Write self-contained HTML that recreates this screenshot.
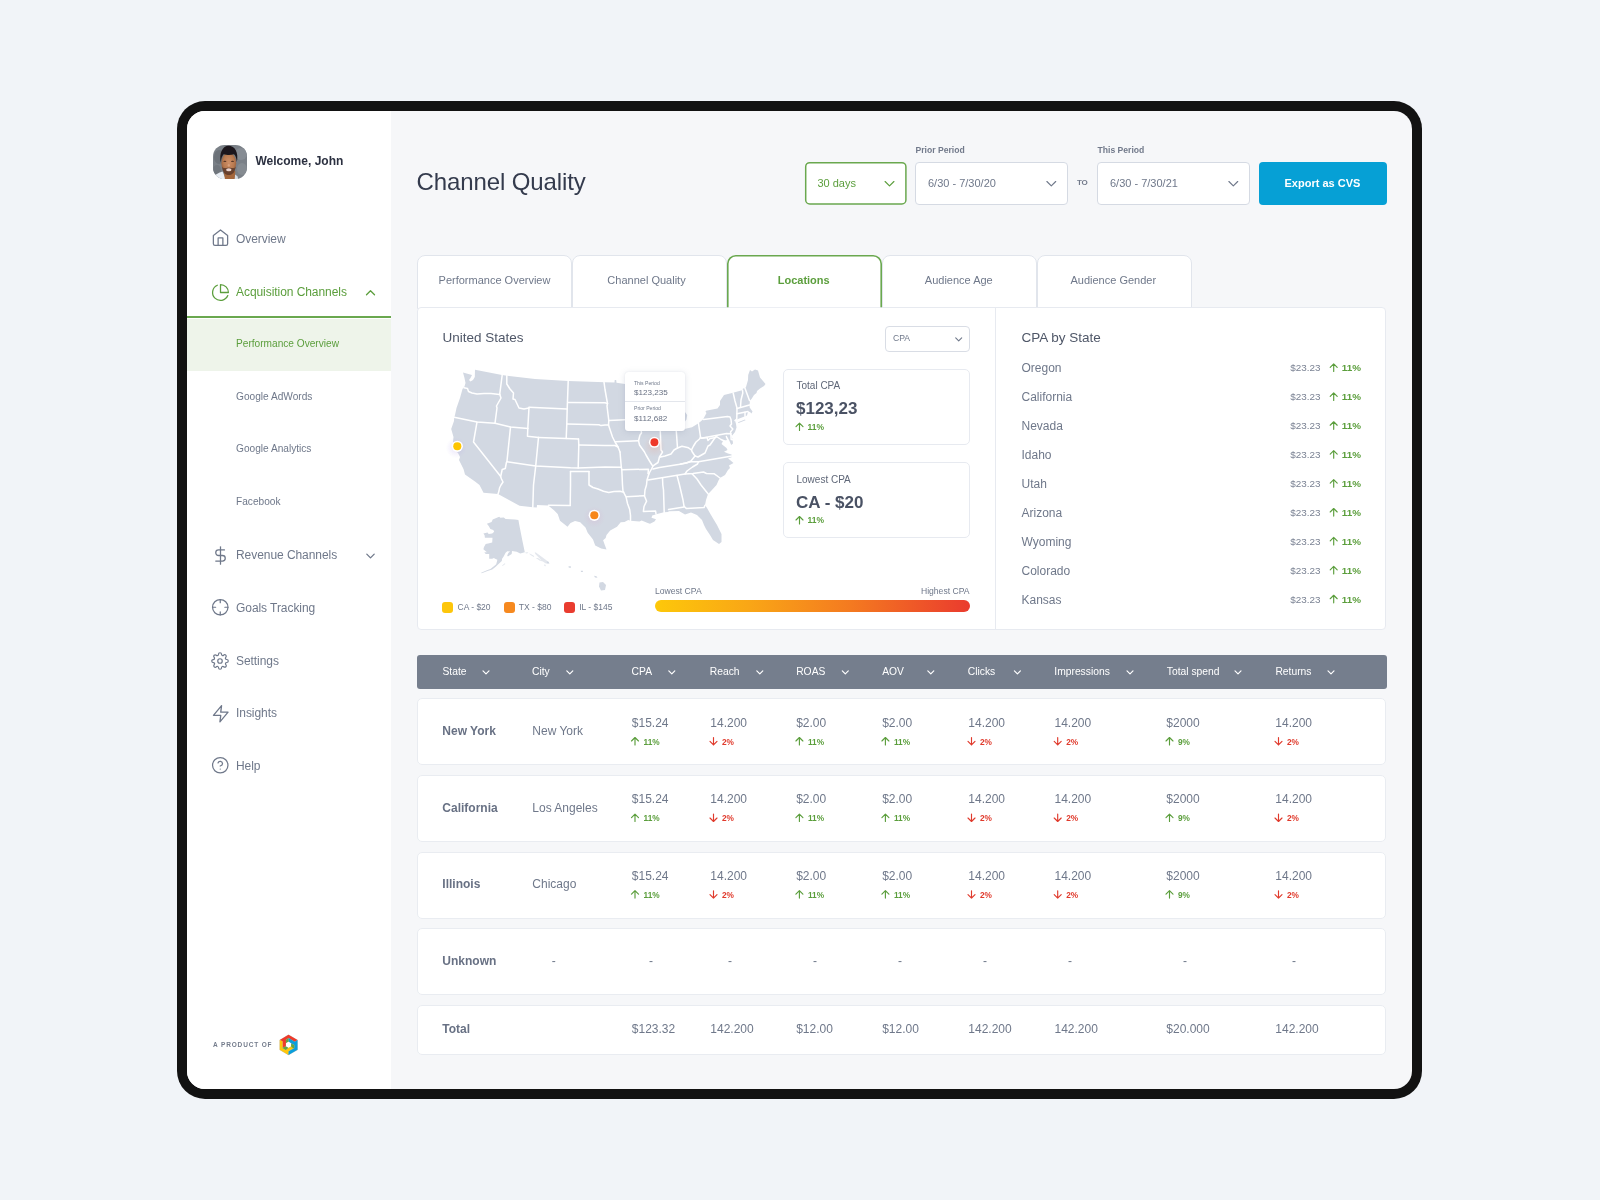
<!DOCTYPE html><html lang="en"><head><meta charset="utf-8"><title>Channel Quality</title><style>
*{box-sizing:border-box;margin:0;padding:0}
html,body{width:1600px;height:1200px;overflow:hidden}
body{background:#f1f4f8;font-family:"Liberation Sans",sans-serif;color:#6f788a;position:relative}
#frame{position:absolute;left:177px;top:101px;width:1245px;height:998px;background:#121212;border-radius:28px}
#screen{position:absolute;left:10px;top:10px;width:1225px;height:978px;background:#f6f7f9;border-radius:18px;overflow:hidden}
#pg{position:absolute;left:-187px;top:-111px;width:1600px;height:1200px;will-change:transform}
#side{position:absolute;left:187px;top:111px;width:204px;height:978px;background:#fff}
.t{position:absolute;white-space:nowrap;line-height:1}
.b{font-weight:700}
.g{color:#5b9e3c}.r{color:#e03a2c}
svg{position:absolute;overflow:visible}
.ic{fill:none;stroke:#6f788a;stroke-width:1.6;stroke-linecap:round;stroke-linejoin:round}
.box{position:absolute;background:#fff;border:1px solid #d5dae3;border-radius:4px}
.card{position:absolute;background:#fff;border:1px solid #e7eaf0;border-radius:5px}
.tab{position:absolute;top:255px;height:54px;width:155px;background:#fff;border:1px solid #e1e5ec;border-radius:8px 8px 0 0}
.row{position:absolute;left:417px;width:969px;height:67px;background:#fff;border:1px solid #e9ecf1;border-radius:5px}
</style></head><body>
<div id="frame"><div id="screen"><div id="pg">
<div id="side"></div>
<svg style="left:212.5px;top:144.8px" width="34" height="34" viewBox="0 0 34 34">
<defs><clipPath id="avc"><rect x="0" y="0" width="34" height="34" rx="11.500" ry="11.500"/></clipPath>
<filter id="avb" x="-10%" y="-10%" width="120%" height="120%"><feGaussianBlur stdDeviation="0.550"/></filter>
<radialGradient id="avf" cx="50%" cy="45%" r="60%"><stop offset="0" stop-color="#cf9068"/><stop offset=".6" stop-color="#b87a50"/><stop offset="1" stop-color="#8d5636"/></radialGradient></defs>
<g clip-path="url(#avc)"><rect width="34" height="34" fill="#7a8087"/>
<g filter="url(#avb)">
<ellipse cx="6" cy="12" rx="5" ry="7" fill="#6c7279"/><ellipse cx="28" cy="9" rx="6" ry="6" fill="#868c93"/><ellipse cx="29" cy="24" rx="5" ry="6" fill="#858b91"/><ellipse cx="4" cy="25" rx="4" ry="5" fill="#70767d"/>
<path d="M-1 36L3 29.500C5.500 27.800 8 27 9.500 26.500L13 34.500z" fill="#e9eef4"/>
<path d="M22 29.500l2.500 1.800 1 4h-4.500z" fill="#d5dbe3"/>
<path d="M10.800 26l1.200 9h9.500l.8-9z" fill="#a4663a"/>
<ellipse cx="15.800" cy="18.300" rx="7.400" ry="10.600" fill="url(#avf)"/>
<path d="M7.800 17.500C5.800 8.500 9.500 .8 15.600 .8s10.400 6.500 8.200 16.500c-.3-4-1.200-6.400-2.800-8-3 .9-7.600.8-10.400-.1-1.500 1.600-2.500 4.300-2.800 8.300z" fill="#1d191b"/>
<path d="M9 21.500c.6 5.700 3 8.600 6.800 8.600s6.200-3 6.900-8.600c-1.200 2.300-2.700 1.200-6.900 1.200s-5.600 1.100-6.800-1.200z" fill="#5e3b2a" opacity=".85"/>
<ellipse cx="15.800" cy="24.700" rx="2.700" ry="1.500" fill="#ead3cd"/>
<ellipse cx="11.900" cy="16.300" rx="1.500" ry=".55" fill="#3a2218"/><ellipse cx="19.500" cy="16.300" rx="1.500" ry=".55" fill="#3a2218"/>
<ellipse cx="15.800" cy="20.300" rx="1.100" ry="1.400" fill="#d9a07c"/>
</g></g></svg>
<div class="t b" style="left:255.5px;top:155.34px;font-size:12px;color:#2b3040">Welcome, John</div>
<div style="position:absolute;left:187px;top:316.3px;width:204px;height:2.2px;background:#6aa84f"></div>
<div style="position:absolute;left:187px;top:318.5px;width:204px;height:52.5px;background:#eef4ea"></div>
<svg class="ic" style="left:210.8px;top:228.0px;stroke:#6f788a" width="19" height="19" viewBox="0 0 24 24"><path d="M3 9.5l9-7 9 7V20a2 2 0 0 1-2 2H5a2 2 0 0 1-2-2z"/><polyline points="9 22 9 12.5 15 12.5 15 22"/></svg>
<div class="t " style="left:236px;top:232.84px;font-size:12px;color:#6f788a;letter-spacing:-.06px">Overview</div>
<svg class="ic" style="left:210.8px;top:282.6px;stroke:#5b9e3c" width="19" height="19" viewBox="0 0 24 24"><path d="M21.21 15.89A10 10 0 1 1 8 2.83"/><path d="M22 12A10 10 0 0 0 12 2v10z"/></svg>
<div class="t " style="left:236px;top:285.54px;font-size:12px;color:#5b9e3c;letter-spacing:-.06px">Acquisition Channels</div>
<div class="t " style="left:236px;top:338.84px;font-size:10.15px;color:#5b9e3c">Performance Overview</div>
<div class="t " style="left:236px;top:391.64px;font-size:10.15px;color:#6f788a">Google AdWords</div>
<div class="t " style="left:236px;top:444.24px;font-size:10.15px;color:#6f788a">Google Analytics</div>
<div class="t " style="left:236px;top:496.94px;font-size:10.15px;color:#6f788a">Facebook</div>
<svg class="ic" style="left:210.8px;top:546.0px;stroke:#6f788a" width="19" height="19" viewBox="0 0 24 24"><line x1="12" y1="1" x2="12" y2="23"/><path d="M17 5H9.5a3.5 3.5 0 0 0 0 7h5a3.5 3.5 0 0 1 0 7H6"/></svg>
<div class="t " style="left:236px;top:549.34px;font-size:12px;color:#6f788a;letter-spacing:-.06px">Revenue Channels</div>
<svg class="ic" style="left:211.05px;top:598.25px;stroke:#6f788a" width="18.5" height="18.5" viewBox="0 0 24 24"><circle cx="12" cy="12" r="10"/><line x1="22" y1="12" x2="18" y2="12"/><line x1="6" y1="12" x2="2" y2="12"/><line x1="12" y1="6" x2="12" y2="2"/><line x1="12" y1="22" x2="12" y2="18"/></svg>
<div class="t " style="left:236px;top:601.64px;font-size:12px;color:#6f788a;letter-spacing:-.06px">Goals Tracking</div>
<svg class="ic" style="left:211.3px;top:652.0px;stroke:#6f788a" width="18" height="18" viewBox="0 0 24 24"><circle cx="12" cy="12" r="3"/><path d="M19.4 15a1.65 1.65 0 0 0 .33 1.82l.06.06a2 2 0 0 1 0 2.83 2 2 0 0 1-2.83 0l-.06-.06a1.65 1.65 0 0 0-1.82-.33 1.65 1.65 0 0 0-1 1.51V21a2 2 0 0 1-2 2 2 2 0 0 1-2-2v-.09A1.65 1.65 0 0 0 9 19.4a1.65 1.65 0 0 0-1.82.33l-.06.06a2 2 0 0 1-2.83 0 2 2 0 0 1 0-2.83l.06-.06a1.65 1.65 0 0 0 .33-1.82 1.65 1.65 0 0 0-1.51-1H3a2 2 0 0 1-2-2 2 2 0 0 1 2-2h.09A1.65 1.65 0 0 0 4.6 9a1.65 1.65 0 0 0-.33-1.82l-.06-.06a2 2 0 0 1 0-2.83 2 2 0 0 1 2.83 0l.06.06a1.65 1.65 0 0 0 1.82.33H9a1.65 1.65 0 0 0 1-1.51V3a2 2 0 0 1 2-2 2 2 0 0 1 2 2v.09a1.65 1.65 0 0 0 1 1.51 1.65 1.65 0 0 0 1.82-.33l.06-.06a2 2 0 0 1 2.83 0 2 2 0 0 1 0 2.83l-.06.06a1.65 1.65 0 0 0-.33 1.82V9a1.65 1.65 0 0 0 1.51 1H21a2 2 0 0 1 2 2 2 2 0 0 1-2 2h-.09a1.65 1.65 0 0 0-1.51 1z"/></svg>
<div class="t " style="left:236px;top:654.64px;font-size:12px;color:#6f788a;letter-spacing:-.06px">Settings</div>
<svg class="ic" style="left:210.55px;top:703.95px;stroke:#6f788a" width="19.5" height="19.5" viewBox="0 0 24 24"><polygon points="13 2 3 14 12 14 11 22 21 10 12 10 13 2"/></svg>
<div class="t " style="left:236px;top:707.44px;font-size:12px;color:#6f788a;letter-spacing:-.06px">Insights</div>
<svg class="ic" style="left:211.05px;top:756.25px;stroke:#6f788a" width="18.5" height="18.5" viewBox="0 0 24 24"><circle cx="12" cy="12" r="10"/><path d="M9.09 9a3 3 0 0 1 5.83 1c0 2-3 3-3 3"/><line x1="12" y1="17" x2="12.01" y2="17"/></svg>
<div class="t " style="left:236px;top:760.34px;font-size:12px;color:#6f788a;letter-spacing:-.06px">Help</div>
<svg style="left:0;top:0" width="1" height="1"><polyline points="366.5,294.7 370.5,290.7 374.5,294.7" fill="none" stroke="#5b9e3c" stroke-width="1.3" stroke-linecap="round" stroke-linejoin="round"/></svg>
<svg style="left:0;top:0" width="1" height="1"><polyline points="366.8,554.15 370.5,557.85 374.2,554.15" fill="none" stroke="#6f788a" stroke-width="1.3" stroke-linecap="round" stroke-linejoin="round"/></svg>
<div class="t b" style="left:213px;top:1041.62px;font-size:6.5px;letter-spacing:.85px;color:#747c8c">A PRODUCT OF</div>
<svg style="left:274px;top:1030px" width="30" height="30" viewBox="0 0 1200 1200">
<polygon points="222,395 580,180 948,395 948,795 580,1006 222,795" fill="#5a4a3a" opacity=".35"/>
<polygon points="230,400 580,190 940,400 830,468 580,322 478,385 478,650 345,705 340,445" fill="#ee3b2b"/>
<polygon points="230,402 340,447 340,715 470,795 580,712 682,650 700,678 772,740 585,850 580,997 230,790" fill="#fdc70c"/>
<polygon points="580,324 830,470 940,402 940,790 580,997 585,850 812,725 812,600 682,530 580,468" fill="#0b9fdc"/>
<polygon points="478,385 580,324 580,468 478,530" fill="#62a744"/>
<polygon points="682,535 812,602 812,722 772,740 700,678 682,650" fill="#62a744"/>
<polygon points="345,705 478,650 580,712 470,795 340,715" fill="#62a744"/>
<polygon points="580,468 682,530 682,650 580,712 478,650 478,530" fill="#fff"/>
</svg>
<div class="t " style="left:416.5px;top:169.68px;font-size:24px;color:#343b4d;letter-spacing:-.1px">Channel Quality</div>
<svg style="left:0;top:0" width="1" height="1"><rect x="805.7" y="162.7" width="100.200" height="41.200" rx="4" fill="#fff" stroke="#6aa84f" stroke-width="1.500"/></svg>
<div class="t " style="left:817.4px;top:177.93px;font-size:11px;color:#5b9e3c">30 days</div>
<svg style="left:0;top:0" width="1" height="1"><polyline points="885.1,181.5 889.5,185.89999999999998 893.9,181.5" fill="none" stroke="#5b9e3c" stroke-width="1.15" stroke-linecap="round" stroke-linejoin="round"/></svg>
<div class="t b" style="left:915.5px;top:145.60px;font-size:8.6px;color:#727a8b">Prior Period</div>
<div class="box" style="left:915px;top:162px;width:153px;height:42.5px"></div>
<div class="t " style="left:928px;top:177.93px;font-size:11px;">6/30 - 7/30/20</div>
<svg style="left:0;top:0" width="1" height="1"><polyline points="1046.8999999999999,181.5 1051.3,185.89999999999998 1055.7,181.5" fill="none" stroke="#6f788a" stroke-width="1.15" stroke-linecap="round" stroke-linejoin="round"/></svg>
<div class="t b" style="left:1077px;top:179.39px;font-size:8px;color:#727a8b;letter-spacing:-.2px">TO</div>
<div class="t b" style="left:1097.5px;top:145.60px;font-size:8.6px;color:#727a8b">This Period</div>
<div class="box" style="left:1097px;top:162px;width:153px;height:42.5px"></div>
<div class="t " style="left:1110px;top:177.93px;font-size:11px;">6/30 - 7/30/21</div>
<svg style="left:0;top:0" width="1" height="1"><polyline points="1228.8999999999999,181.5 1233.3,185.89999999999998 1237.7,181.5" fill="none" stroke="#6f788a" stroke-width="1.15" stroke-linecap="round" stroke-linejoin="round"/></svg>
<div style="position:absolute;left:1259px;top:162px;width:127.5px;height:42.5px;background:#06a0d5;border-radius:4px"></div>
<div class="t b" style="left:1284.5px;top:177.83px;font-size:11px;color:#fff">Export as CVS</div>
<div class="tab" style="left:417px"></div>
<div class="tab" style="left:572px"></div>
<svg style="left:0;top:0;z-index:5" width="1" height="1"><path d="M727.8 307.2V263.8A8 8 0 0 1 735.8 255.8H873.2A8 8 0 0 1 881.2 263.8V307.2" fill="#fff" stroke="#6aa84f" stroke-width="1.6"/></svg>
<div class="tab" style="left:882px"></div>
<div class="tab" style="left:1037px"></div>
<div class="card" style="left:417px;top:306.5px;width:969px;height:323px;border-radius:4px;z-index:4"></div>
<div style="position:absolute;z-index:5;left:0;top:0;width:1600px;height:1200px">
<div class="t " style="left:417px;width:155px;text-align:center;top:275.13px;font-size:11px;color:#6f788a">Performance Overview</div>
<div class="t " style="left:569px;width:155px;text-align:center;top:275.13px;font-size:11px;color:#6f788a">Channel Quality</div>
<div class="t b" style="left:726.2px;width:155px;text-align:center;top:275.13px;font-size:11px;color:#5b9e3c">Locations</div>
<div class="t " style="left:881.3px;width:155px;text-align:center;top:275.13px;font-size:11px;color:#6f788a">Audience Age</div>
<div class="t " style="left:1035.8px;width:155px;text-align:center;top:275.13px;font-size:11px;color:#6f788a">Audience Gender</div>
<div style="position:absolute;left:995px;top:307px;width:1px;height:322px;background:#e7eaf0"></div>
<div class="t " style="left:442.5px;top:330.91px;font-size:13.5px;color:#4f5768">United States</div>
<div class="box" style="left:884.5px;top:326px;width:85px;height:25.5px;border-color:#d9dde5"></div>
<div class="t " style="left:893px;top:334.30px;font-size:8.6px;">CPA</div>
<svg style="left:0;top:0" width="1" height="1"><polyline points="955.7,337.8 958.7,340.8 961.7,337.8" fill="none" stroke="#6f788a" stroke-width="1.1" stroke-linecap="round" stroke-linejoin="round"/></svg>
<svg style="left:445px;top:365px" width="330" height="240" viewBox="0 0 3300 2400">
<g fill="#d2d8e2" stroke="none">
<polygon points="300,48 570,100 620,108 900,140 1232,161 1600,172 1695,174 1697,150 1712,150 1715,177 1800,190 1930,235 1890,290 2020,300 2120,285 2240,310 2300,360 2370,400 2400,470 2422,500 2415,545 2400,565 2395,640 2470,622 2535,582 2580,545 2615,480 2605,468 2610,457 2725,435 2750,400 2750,360 2790,300 2880,277 2970,252 2980,235 3000,232 3010,220 3030,150 3032,100 3050,50 3070,65 3100,45 3130,55 3150,125 3180,160 3205,190 3190,210 3150,235 3120,260 3115,280 3090,300 3065,340 3050,355 3045,400 3047,425 3075,465 3065,485 3050,470 3030,465 3020,505 2930,540 2900,555 2910,590 2915,625 2900,670 2872,705 2855,690 2865,720 2875,740 2880,785 2862,800 2845,760 2835,740 2815,705 2805,715 2820,750 2780,760 2765,790 2815,830 2825,850 2790,868 2830,885 2865,895 2870,920 2830,935 2850,950 2885,980 2840,1005 2850,1030 2830,1050 2800,1100 2750,1130 2735,1155 2715,1200 2660,1260 2630,1290 2610,1350 2600,1400 2620,1430 2660,1500 2720,1600 2765,1690 2765,1770 2740,1790 2680,1750 2650,1700 2610,1640 2590,1600 2570,1550 2520,1500 2460,1475 2400,1495 2340,1460 2240,1462 2230,1470 2190,1472 2120,1490 2090,1500 2072,1505 2065,1527 2110,1542 2095,1565 2050,1587 2027,1580 1967,1554 1945,1565 1855,1557 1832,1550 1795,1569 1757,1572 1720,1617 1652,1655 1615,1700 1607,1730 1581,1752 1600,1805 1615,1846 1562,1835 1502,1805 1480,1745 1427,1677 1405,1625 1352,1572 1300,1561 1255,1580 1225,1617 1150,1557 1127,1490 1090,1452 1032,1404 920,1400 918,1425 878,1422 745,1408 530,1290 385,1278 345,1200 300,1165 250,1130 200,1095 185,1040 140,950 150,920 130,880 100,850 80,770 85,720 62,640 90,560 92,525 100,500 115,430 150,330 175,240 195,215 205,180 195,130 180,75 270,100 255,130 240,150 255,165 280,150 298,120"/>
<polygon points="2930,572 3000,545 3005,552 2935,580"/>
<polygon points="419,1587 466,1569 477,1546 542,1517 553,1528 588,1525 606,1540 699,1546 734,1549 746,1616 775,1762 798,1872 752,1884 717,1867 670,1861 667,1890 647,1902 629,1916 622,1905 635,1878 652,1864 623,1862 606,1878 588,1913 571,1937 568,1960 530,1995 507,2018 472,2045 425,2059 367,2082 361,2077 419,2053 454,2039 495,2007 512,1992 524,1948 501,1937 489,1931 472,1937 442,1937 442,1890 407,1890 393,1872 419,1872 384,1843 390,1820 407,1791 442,1782 472,1776 475,1727 442,1727 399,1727 396,1703 384,1686 425,1674 437,1689 472,1686 492,1668 483,1651 454,1639 437,1610"/>
<polygon points="1015,1965 1035,1968 1040,1980 1020,1982"/>
<polygon points="1235,2012 1258,2012 1260,2027 1238,2028"/>
<polygon points="1358,2057 1378,2058 1380,2070 1360,2070"/>
<polygon points="1490,2108 1515,2112 1525,2128 1500,2125"/>
<polygon points="1545,2175 1580,2170 1610,2200 1600,2250 1560,2255 1540,2215"/>
<g opacity=".6">
<polygon points="801,1874 827,1872 833,1881 810,1885"/>
<polygon points="839,1885 857,1890 892,1910 889,1919 862,1905"/>
<polygon points="897,1872 909,1875 1037,1969 1046,1989 1008,1984 979,1966 944,1954 909,1931 930,1931 967,1954 903,1890"/>
<polygon points="991,1995 1005,1998 1008,2012 994,2010"/>
<polygon points="571,2004 597,1983 603,1990 577,2010"/>
</g>
</g>
<g fill="none" stroke="#fff" stroke-width="15" stroke-linejoin="round" stroke-linecap="round">
<polyline points="190,228 225,235 235,265 270,280 320,290 390,285 460,285 545,295"/>
<polyline points="572,100 547,293"/>
<polyline points="547,293 560,330 515,410 520,430 500,582"/>
<polyline points="618,108 618,190 650,240 685,280 680,340 700,345 740,430 790,440 838,430"/>
<polyline points="840,425 828,632 825,712 935,725"/>
<polyline points="840,423 1221,440"/>
<polyline points="1232,161 1222,440 1218,590 1212,735"/>
<polyline points="92,523 320,571 500,583 655,621 830,634"/>
<polyline points="320,572 285,770 555,1112 565,1140 580,1170 560,1200 545,1230 540,1260 530,1290"/>
<polyline points="655,622 619,968"/>
<polyline points="614,975 603,1035 572,1045 558,1110"/>
<polyline points="619,968 907,1011 1255,1028 1332,1030 1600,1021 1763,1022"/>
<polyline points="935,725 907,1011 885,1200 878,1422"/>
<polyline points="935,725 1212,735 1335,740"/>
<polyline points="1335,740 1338,800 1332,1030"/>
<polyline points="1232,376 1600,378 1625,385"/>
<polyline points="1222,590 1540,598 1560,606 1600,600 1635,600"/>
<polyline points="1338,800 1600,805 1700,805 1730,820"/>
<polyline points="1255,1065 1255,1200 1252,1404"/>
<polyline points="1252,1404 1035,1402"/>
<polyline points="1255,1065 1440,1065"/>
<polyline points="1440,1065 1440,1200 1480,1225 1530,1240 1585,1262 1637,1275 1690,1265 1750,1262 1787,1272"/>
<polyline points="1590,172 1600,245 1615,330 1625,385 1620,410 1638,555 1635,600"/>
<polyline points="1635,600 1675,720 1700,770 1730,820 1750,870"/>
<polyline points="1750,870 1763,1022 1768,1047 1775,1200 1780,1262 1800,1300 1810,1317"/>
<polyline points="1810,1317 1825,1385 1847,1445 1855,1505 1855,1556"/>
<polyline points="1638,555 1800,548 1960,548"/>
<polyline points="1705,768 1935,757"/>
<polyline points="1960,640 1965,680 1950,700 1935,757 1945,800 1995,870 2010,900 2045,960 2070,1000 2080,1010 2065,1040 2040,1085 2020,1150 2015,1200 2000,1250 1995,1310 2016,1362 1990,1415 1984,1464 2106,1460 2110,1490"/>
<polyline points="2153,660 2160,850 2175,870 2145,920 2130,975 2080,1008"/>
<polyline points="2313,660 2325,830"/>
<polyline points="2145,922 2200,910 2260,890 2290,850 2325,830 2370,812 2435,828 2465,850"/>
<polyline points="2555,720 2545,740 2510,770 2485,810 2465,848 2470,865 2500,910"/>
<polyline points="2535,585 2555,720"/>
<polyline points="2585,545 2825,515 2850,520 2860,545 2865,590 2850,610 2878,640 2855,670 2858,690"/>
<polyline points="2555,722 2562,733 2815,686 2858,688"/>
<polyline points="2562,733 2620,725 2630,755 2650,735 2695,728 2715,715"/>
<polyline points="2500,910 2530,920 2600,880 2630,810 2650,800 2695,735 2715,715 2760,745 2800,762"/>
<polyline points="2500,910 2460,960 2415,980 2350,992"/>
<polyline points="2080,1040 2145,1025 2350,992 2460,967 2535,967 2870,910"/>
<polyline points="2535,967 2525,990 2475,1020 2420,1060 2400,1090"/>
<polyline points="2030,1150 2400,1090 2480,1085 2585,1070 2615,1085 2690,1087 2750,1130"/>
<polyline points="1768,1047 2035,1042 2030,1085 2040,1088"/>
<polyline points="1814,1317 1995,1308"/>
<polyline points="2175,1128 2178,1200 2185,1250 2192,1475"/>
<polyline points="2320,1105 2345,1200 2380,1350 2390,1412"/>
<polyline points="2235,1444 2390,1420"/>
<polyline points="2390,1412 2415,1436 2590,1426 2600,1402"/>
<polyline points="2470,1088 2520,1140 2560,1200 2630,1288"/>
<polyline points="2882,280 2900,360 2920,430 2918,540 2900,555"/>
<polyline points="2975,250 2978,280 2960,350 2955,420"/>
<polyline points="3000,232 3045,355"/>
<polyline points="2920,435 3045,400"/>
<polyline points="2920,488 3030,465"/>
<polyline points="3000,472 3000,512"/>
<polyline points="2858,690 2862,745 2880,748"/>
</g>
</svg>
<svg style="left:0;top:0" width="1600" height="1200" viewBox="0 0 1600 1200">
<defs><radialGradient id="gl1"><stop offset="0" stop-color="#9a80e6" stop-opacity=".26"/><stop offset=".45" stop-color="#a892ea" stop-opacity=".14"/><stop offset="1" stop-color="#b6a6ee" stop-opacity="0"/></radialGradient><radialGradient id="gl2"><stop offset="0" stop-color="#e8a08a" stop-opacity=".32"/><stop offset="1" stop-color="#e8b0a0" stop-opacity="0"/></radialGradient><radialGradient id="gl3"><stop offset="0" stop-color="#d8a0c8" stop-opacity=".3"/><stop offset="1" stop-color="#d8b0d0" stop-opacity="0"/></radialGradient></defs>
<circle cx="456.2" cy="447.8" r="10.500" fill="url(#gl1)"/><circle cx="457.3" cy="446.3" r="5.600" fill="#fff"/><circle cx="457.3" cy="446.3" r="4.050" fill="#fdc502"/>
<circle cx="654.4" cy="446" r="11" fill="url(#gl2)"/><circle cx="654.4" cy="442.3" r="5.500" fill="#fff"/><circle cx="654.4" cy="442.3" r="3.950" fill="#ee3829"/>
<circle cx="594.3" cy="517" r="11" fill="url(#gl3)"/><circle cx="594.3" cy="515.3" r="5.650" fill="#fff"/><circle cx="594.3" cy="515.3" r="4.050" fill="#f6871a"/>
</svg>
<div style="position:absolute;left:625.3px;top:372px;width:59.500px;height:59px;background:#fff;border-radius:3px;box-shadow:0 1px 6px rgba(120,130,160,.22),0 0 1px rgba(120,130,160,.25)"></div>
<div style="position:absolute;left:625.3px;top:401px;width:59.500px;height:.8px;background:#e3e6ec"></div>
<div class="t" style="left:634px;top:381px;font-size:5.1px;color:#6f788a">This Period</div>
<div class="t" style="left:634px;top:389.1px;font-size:8.1px;color:#697183">$123,235</div>
<div class="t" style="left:634px;top:405.8px;font-size:5.1px;color:#6f788a">Prior Period</div>
<div class="t" style="left:634px;top:414.9px;font-size:8.1px;color:#697183">$112,682</div>
<div class="card" style="left:782.5px;top:369px;width:187px;height:76px"></div>
<div class="t " style="left:796.5px;top:381.31px;font-size:10.0px;color:#5f6778">Total CPA</div>
<div class="t b" style="left:796px;top:400.40px;font-size:17px;color:#4a5264">$123,23</div>
<svg style="left:0;top:0" width="1" height="1"><path d="M799.5 430.5V423.1M796 426.6L799.5 423.1L803 426.6" fill="none" stroke="#5b9e3c" stroke-width="1.15" stroke-linecap="round" stroke-linejoin="round"/></svg>
<div class="t b g" style="left:807.5px;top:422.95px;font-size:8.5px;">11%</div>
<div class="card" style="left:782.5px;top:462.4px;width:187px;height:76px"></div>
<div class="t " style="left:796.5px;top:474.71px;font-size:10.0px;color:#5f6778">Lowest CPA</div>
<div class="t b" style="left:796px;top:493.80px;font-size:17px;color:#4a5264">CA - $20</div>
<svg style="left:0;top:0" width="1" height="1"><path d="M799.5 523.9V516.4999999999999M796 519.9999999999999L799.5 516.4999999999999L803 519.9999999999999" fill="none" stroke="#5b9e3c" stroke-width="1.15" stroke-linecap="round" stroke-linejoin="round"/></svg>
<div class="t b g" style="left:807.5px;top:516.35px;font-size:8.5px;">11%</div>
<div style="position:absolute;left:442.3px;top:601.5px;width:11px;height:11px;border-radius:3px;background:#fdc60b"></div>
<div class="t " style="left:457.5px;top:603.05px;font-size:8.5px;">CA - $20</div>
<div style="position:absolute;left:503.6px;top:601.5px;width:11px;height:11px;border-radius:3px;background:#f6891f"></div>
<div class="t " style="left:518.8000000000001px;top:603.05px;font-size:8.5px;">TX - $80</div>
<div style="position:absolute;left:564px;top:601.5px;width:11px;height:11px;border-radius:3px;background:#e93c2f"></div>
<div class="t " style="left:579.2px;top:603.05px;font-size:8.5px;">IL - $145</div>
<div class="t " style="left:655px;top:586.80px;font-size:8.6px;">Lowest CPA</div>
<div class="t " style="right:630.5px;top:586.80px;font-size:8.6px;">Highest CPA</div>
<div style="position:absolute;left:655px;top:599.8px;width:314.500px;height:12.7px;border-radius:7px;background:linear-gradient(90deg,#fdc80a 0%,#f9a616 30%,#f47a20 62%,#ea3b2e 100%)"></div>
<div class="t " style="left:1021.5px;top:330.91px;font-size:13.5px;color:#4f5768">CPA by State</div>
<div class="t " style="left:1021.5px;top:362.14px;font-size:12px;">Oregon</div>
<div class="t " style="left:1290.3px;top:363.16px;font-size:9.9px;color:#7a8293">$23.23</div>
<svg style="left:0;top:0" width="1" height="1"><path d="M1333.7 371.5V363.9M1330.2 367.4L1333.7 363.9L1337.2 367.4" fill="none" stroke="#5b9e3c" stroke-width="1.15" stroke-linecap="round" stroke-linejoin="round"/></svg>
<div class="t b g" style="left:1341.8px;top:363.16px;font-size:9.9px;">11%</div>
<div class="t " style="left:1021.5px;top:391.06px;font-size:12px;">California</div>
<div class="t " style="left:1290.3px;top:392.08px;font-size:9.9px;color:#7a8293">$23.23</div>
<svg style="left:0;top:0" width="1" height="1"><path d="M1333.7 400.42V392.82M1330.2 396.32L1333.7 392.82L1337.2 396.32" fill="none" stroke="#5b9e3c" stroke-width="1.15" stroke-linecap="round" stroke-linejoin="round"/></svg>
<div class="t b g" style="left:1341.8px;top:392.08px;font-size:9.9px;">11%</div>
<div class="t " style="left:1021.5px;top:419.98px;font-size:12px;">Nevada</div>
<div class="t " style="left:1290.3px;top:421.00px;font-size:9.9px;color:#7a8293">$23.23</div>
<svg style="left:0;top:0" width="1" height="1"><path d="M1333.7 429.34000000000003V421.74M1330.2 425.24L1333.7 421.74L1337.2 425.24" fill="none" stroke="#5b9e3c" stroke-width="1.15" stroke-linecap="round" stroke-linejoin="round"/></svg>
<div class="t b g" style="left:1341.8px;top:421.00px;font-size:9.9px;">11%</div>
<div class="t " style="left:1021.5px;top:448.90px;font-size:12px;">Idaho</div>
<div class="t " style="left:1290.3px;top:449.92px;font-size:9.9px;color:#7a8293">$23.23</div>
<svg style="left:0;top:0" width="1" height="1"><path d="M1333.7 458.26V450.65999999999997M1330.2 454.15999999999997L1333.7 450.65999999999997L1337.2 454.15999999999997" fill="none" stroke="#5b9e3c" stroke-width="1.15" stroke-linecap="round" stroke-linejoin="round"/></svg>
<div class="t b g" style="left:1341.8px;top:449.92px;font-size:9.9px;">11%</div>
<div class="t " style="left:1021.5px;top:477.82px;font-size:12px;">Utah</div>
<div class="t " style="left:1290.3px;top:478.84px;font-size:9.9px;color:#7a8293">$23.23</div>
<svg style="left:0;top:0" width="1" height="1"><path d="M1333.7 487.18V479.58M1330.2 483.08L1333.7 479.58L1337.2 483.08" fill="none" stroke="#5b9e3c" stroke-width="1.15" stroke-linecap="round" stroke-linejoin="round"/></svg>
<div class="t b g" style="left:1341.8px;top:478.84px;font-size:9.9px;">11%</div>
<div class="t " style="left:1021.5px;top:506.74px;font-size:12px;">Arizona</div>
<div class="t " style="left:1290.3px;top:507.76px;font-size:9.9px;color:#7a8293">$23.23</div>
<svg style="left:0;top:0" width="1" height="1"><path d="M1333.7 516.1V508.50000000000006M1330.2 512.0L1333.7 508.50000000000006L1337.2 512.0" fill="none" stroke="#5b9e3c" stroke-width="1.15" stroke-linecap="round" stroke-linejoin="round"/></svg>
<div class="t b g" style="left:1341.8px;top:507.76px;font-size:9.9px;">11%</div>
<div class="t " style="left:1021.5px;top:535.66px;font-size:12px;">Wyoming</div>
<div class="t " style="left:1290.3px;top:536.68px;font-size:9.9px;color:#7a8293">$23.23</div>
<svg style="left:0;top:0" width="1" height="1"><path d="M1333.7 545.02V537.4200000000001M1330.2 540.9200000000001L1333.7 537.4200000000001L1337.2 540.9200000000001" fill="none" stroke="#5b9e3c" stroke-width="1.15" stroke-linecap="round" stroke-linejoin="round"/></svg>
<div class="t b g" style="left:1341.8px;top:536.68px;font-size:9.9px;">11%</div>
<div class="t " style="left:1021.5px;top:564.58px;font-size:12px;">Colorado</div>
<div class="t " style="left:1290.3px;top:565.60px;font-size:9.9px;color:#7a8293">$23.23</div>
<svg style="left:0;top:0" width="1" height="1"><path d="M1333.7 573.94V566.3400000000001M1330.2 569.8400000000001L1333.7 566.3400000000001L1337.2 569.8400000000001" fill="none" stroke="#5b9e3c" stroke-width="1.15" stroke-linecap="round" stroke-linejoin="round"/></svg>
<div class="t b g" style="left:1341.8px;top:565.60px;font-size:9.9px;">11%</div>
<div class="t " style="left:1021.5px;top:593.50px;font-size:12px;">Kansas</div>
<div class="t " style="left:1290.3px;top:594.52px;font-size:9.9px;color:#7a8293">$23.23</div>
<svg style="left:0;top:0" width="1" height="1"><path d="M1333.7 602.86V595.2600000000001M1330.2 598.7600000000001L1333.7 595.2600000000001L1337.2 598.7600000000001" fill="none" stroke="#5b9e3c" stroke-width="1.15" stroke-linecap="round" stroke-linejoin="round"/></svg>
<div class="t b g" style="left:1341.8px;top:594.52px;font-size:9.9px;">11%</div>
</div>
<div style="position:absolute;left:417px;top:655px;width:969.5px;height:34px;background:#757e8d;border-radius:3px"></div>
<div class="t " style="left:442.5px;top:667.07px;font-size:10.3px;color:#fff">State</div>
<svg style="left:0;top:0" width="1" height="1"><polyline points="483.0,670.8 486,673.8 489.0,670.8" fill="none" stroke="#fff" stroke-width="1.2" stroke-linecap="round" stroke-linejoin="round"/></svg>
<div class="t " style="left:532px;top:667.07px;font-size:10.3px;color:#fff">City</div>
<svg style="left:0;top:0" width="1" height="1"><polyline points="566.8,670.8 569.8,673.8 572.8,670.8" fill="none" stroke="#fff" stroke-width="1.2" stroke-linecap="round" stroke-linejoin="round"/></svg>
<div class="t " style="left:631.6px;top:667.07px;font-size:10.3px;color:#fff">CPA</div>
<svg style="left:0;top:0" width="1" height="1"><polyline points="668.8,670.8 671.8,673.8 674.8,670.8" fill="none" stroke="#fff" stroke-width="1.2" stroke-linecap="round" stroke-linejoin="round"/></svg>
<div class="t " style="left:709.8px;top:667.07px;font-size:10.3px;color:#fff">Reach</div>
<svg style="left:0;top:0" width="1" height="1"><polyline points="756.8,670.8 759.8,673.8 762.8,670.8" fill="none" stroke="#fff" stroke-width="1.2" stroke-linecap="round" stroke-linejoin="round"/></svg>
<div class="t " style="left:796.2px;top:667.07px;font-size:10.3px;color:#fff">ROAS</div>
<svg style="left:0;top:0" width="1" height="1"><polyline points="842.3,670.8 845.3,673.8 848.3,670.8" fill="none" stroke="#fff" stroke-width="1.2" stroke-linecap="round" stroke-linejoin="round"/></svg>
<div class="t " style="left:882.2px;top:667.07px;font-size:10.3px;color:#fff">AOV</div>
<svg style="left:0;top:0" width="1" height="1"><polyline points="927.8,670.8 930.8,673.8 933.8,670.8" fill="none" stroke="#fff" stroke-width="1.2" stroke-linecap="round" stroke-linejoin="round"/></svg>
<div class="t " style="left:967.8px;top:667.07px;font-size:10.3px;color:#fff">Clicks</div>
<svg style="left:0;top:0" width="1" height="1"><polyline points="1014.4,670.8 1017.4,673.8 1020.4,670.8" fill="none" stroke="#fff" stroke-width="1.2" stroke-linecap="round" stroke-linejoin="round"/></svg>
<div class="t " style="left:1054.3px;top:667.07px;font-size:10.3px;color:#fff">Impressions</div>
<svg style="left:0;top:0" width="1" height="1"><polyline points="1127.0,670.8 1130,673.8 1133.0,670.8" fill="none" stroke="#fff" stroke-width="1.2" stroke-linecap="round" stroke-linejoin="round"/></svg>
<div class="t " style="left:1166.8px;top:667.07px;font-size:10.3px;color:#fff">Total spend</div>
<svg style="left:0;top:0" width="1" height="1"><polyline points="1235.0,670.8 1238,673.8 1241.0,670.8" fill="none" stroke="#fff" stroke-width="1.2" stroke-linecap="round" stroke-linejoin="round"/></svg>
<div class="t " style="left:1275.4px;top:667.07px;font-size:10.3px;color:#fff">Returns</div>
<svg style="left:0;top:0" width="1" height="1"><polyline points="1328.0,670.8 1331,673.8 1334.0,670.8" fill="none" stroke="#fff" stroke-width="1.2" stroke-linecap="round" stroke-linejoin="round"/></svg>
<div class="row" style="top:698px"></div>
<div class="t b" style="left:442.3px;top:725.14px;font-size:12px;color:#687184">New York</div>
<div class="t " style="left:532.3px;top:725.14px;font-size:12px;">New York</div>
<div class="t " style="left:631.8px;top:716.64px;font-size:12px;">$15.24</div>
<svg style="left:0;top:0" width="1" height="1"><path d="M635.0 744.9000000000001V737.5M631.5 741.0L635.0 737.5L638.5 741.0" fill="none" stroke="#5b9e3c" stroke-width="1.15" stroke-linecap="round" stroke-linejoin="round"/></svg>
<div class="t b g" style="left:643.5px;top:737.55px;font-size:8.3px;">11%</div>
<div class="t " style="left:710.3px;top:716.64px;font-size:12px;">14.200</div>
<svg style="left:0;top:0" width="1" height="1"><path d="M713.5 737.5V744.9000000000001M710.0 741.4000000000001L713.5 744.9000000000001L717.0 741.4000000000001" fill="none" stroke="#e03a2c" stroke-width="1.15" stroke-linecap="round" stroke-linejoin="round"/></svg>
<div class="t b r" style="left:722.0px;top:737.55px;font-size:8.3px;">2%</div>
<div class="t " style="left:796.2px;top:716.64px;font-size:12px;">$2.00</div>
<svg style="left:0;top:0" width="1" height="1"><path d="M799.4000000000001 744.9000000000001V737.5M795.9000000000001 741.0L799.4000000000001 737.5L802.9000000000001 741.0" fill="none" stroke="#5b9e3c" stroke-width="1.15" stroke-linecap="round" stroke-linejoin="round"/></svg>
<div class="t b g" style="left:807.9000000000001px;top:737.55px;font-size:8.3px;">11%</div>
<div class="t " style="left:882.2px;top:716.64px;font-size:12px;">$2.00</div>
<svg style="left:0;top:0" width="1" height="1"><path d="M885.4000000000001 744.9000000000001V737.5M881.9000000000001 741.0L885.4000000000001 737.5L888.9000000000001 741.0" fill="none" stroke="#5b9e3c" stroke-width="1.15" stroke-linecap="round" stroke-linejoin="round"/></svg>
<div class="t b g" style="left:893.9000000000001px;top:737.55px;font-size:8.3px;">11%</div>
<div class="t " style="left:968.3px;top:716.64px;font-size:12px;">14.200</div>
<svg style="left:0;top:0" width="1" height="1"><path d="M971.5 737.5V744.9000000000001M968.0 741.4000000000001L971.5 744.9000000000001L975.0 741.4000000000001" fill="none" stroke="#e03a2c" stroke-width="1.15" stroke-linecap="round" stroke-linejoin="round"/></svg>
<div class="t b r" style="left:980.0px;top:737.55px;font-size:8.3px;">2%</div>
<div class="t " style="left:1054.5px;top:716.64px;font-size:12px;">14.200</div>
<svg style="left:0;top:0" width="1" height="1"><path d="M1057.7 737.5V744.9000000000001M1054.2 741.4000000000001L1057.7 744.9000000000001L1061.2 741.4000000000001" fill="none" stroke="#e03a2c" stroke-width="1.15" stroke-linecap="round" stroke-linejoin="round"/></svg>
<div class="t b r" style="left:1066.2px;top:737.55px;font-size:8.3px;">2%</div>
<div class="t " style="left:1166.3px;top:716.64px;font-size:12px;">$2000</div>
<svg style="left:0;top:0" width="1" height="1"><path d="M1169.5 744.9000000000001V737.5M1166.0 741.0L1169.5 737.5L1173.0 741.0" fill="none" stroke="#5b9e3c" stroke-width="1.15" stroke-linecap="round" stroke-linejoin="round"/></svg>
<div class="t b g" style="left:1178.0px;top:737.55px;font-size:8.3px;">9%</div>
<div class="t " style="left:1275.3px;top:716.64px;font-size:12px;">14.200</div>
<svg style="left:0;top:0" width="1" height="1"><path d="M1278.5 737.5V744.9000000000001M1275.0 741.4000000000001L1278.5 744.9000000000001L1282.0 741.4000000000001" fill="none" stroke="#e03a2c" stroke-width="1.15" stroke-linecap="round" stroke-linejoin="round"/></svg>
<div class="t b r" style="left:1287.0px;top:737.55px;font-size:8.3px;">2%</div>
<div class="row" style="top:775px"></div>
<div class="t b" style="left:442.3px;top:801.74px;font-size:12px;color:#687184">California</div>
<div class="t " style="left:532.3px;top:801.74px;font-size:12px;">Los Angeles</div>
<div class="t " style="left:631.8px;top:793.24px;font-size:12px;">$15.24</div>
<svg style="left:0;top:0" width="1" height="1"><path d="M635.0 821.5000000000001V814.1M631.5 817.6L635.0 814.1L638.5 817.6" fill="none" stroke="#5b9e3c" stroke-width="1.15" stroke-linecap="round" stroke-linejoin="round"/></svg>
<div class="t b g" style="left:643.5px;top:814.15px;font-size:8.3px;">11%</div>
<div class="t " style="left:710.3px;top:793.24px;font-size:12px;">14.200</div>
<svg style="left:0;top:0" width="1" height="1"><path d="M713.5 814.1V821.5000000000001M710.0 818.0000000000001L713.5 821.5000000000001L717.0 818.0000000000001" fill="none" stroke="#e03a2c" stroke-width="1.15" stroke-linecap="round" stroke-linejoin="round"/></svg>
<div class="t b r" style="left:722.0px;top:814.15px;font-size:8.3px;">2%</div>
<div class="t " style="left:796.2px;top:793.24px;font-size:12px;">$2.00</div>
<svg style="left:0;top:0" width="1" height="1"><path d="M799.4000000000001 821.5000000000001V814.1M795.9000000000001 817.6L799.4000000000001 814.1L802.9000000000001 817.6" fill="none" stroke="#5b9e3c" stroke-width="1.15" stroke-linecap="round" stroke-linejoin="round"/></svg>
<div class="t b g" style="left:807.9000000000001px;top:814.15px;font-size:8.3px;">11%</div>
<div class="t " style="left:882.2px;top:793.24px;font-size:12px;">$2.00</div>
<svg style="left:0;top:0" width="1" height="1"><path d="M885.4000000000001 821.5000000000001V814.1M881.9000000000001 817.6L885.4000000000001 814.1L888.9000000000001 817.6" fill="none" stroke="#5b9e3c" stroke-width="1.15" stroke-linecap="round" stroke-linejoin="round"/></svg>
<div class="t b g" style="left:893.9000000000001px;top:814.15px;font-size:8.3px;">11%</div>
<div class="t " style="left:968.3px;top:793.24px;font-size:12px;">14.200</div>
<svg style="left:0;top:0" width="1" height="1"><path d="M971.5 814.1V821.5000000000001M968.0 818.0000000000001L971.5 821.5000000000001L975.0 818.0000000000001" fill="none" stroke="#e03a2c" stroke-width="1.15" stroke-linecap="round" stroke-linejoin="round"/></svg>
<div class="t b r" style="left:980.0px;top:814.15px;font-size:8.3px;">2%</div>
<div class="t " style="left:1054.5px;top:793.24px;font-size:12px;">14.200</div>
<svg style="left:0;top:0" width="1" height="1"><path d="M1057.7 814.1V821.5000000000001M1054.2 818.0000000000001L1057.7 821.5000000000001L1061.2 818.0000000000001" fill="none" stroke="#e03a2c" stroke-width="1.15" stroke-linecap="round" stroke-linejoin="round"/></svg>
<div class="t b r" style="left:1066.2px;top:814.15px;font-size:8.3px;">2%</div>
<div class="t " style="left:1166.3px;top:793.24px;font-size:12px;">$2000</div>
<svg style="left:0;top:0" width="1" height="1"><path d="M1169.5 821.5000000000001V814.1M1166.0 817.6L1169.5 814.1L1173.0 817.6" fill="none" stroke="#5b9e3c" stroke-width="1.15" stroke-linecap="round" stroke-linejoin="round"/></svg>
<div class="t b g" style="left:1178.0px;top:814.15px;font-size:8.3px;">9%</div>
<div class="t " style="left:1275.3px;top:793.24px;font-size:12px;">14.200</div>
<svg style="left:0;top:0" width="1" height="1"><path d="M1278.5 814.1V821.5000000000001M1275.0 818.0000000000001L1278.5 821.5000000000001L1282.0 818.0000000000001" fill="none" stroke="#e03a2c" stroke-width="1.15" stroke-linecap="round" stroke-linejoin="round"/></svg>
<div class="t b r" style="left:1287.0px;top:814.15px;font-size:8.3px;">2%</div>
<div class="row" style="top:852px"></div>
<div class="t b" style="left:442.3px;top:878.34px;font-size:12px;color:#687184">Illinois</div>
<div class="t " style="left:532.3px;top:878.34px;font-size:12px;">Chicago</div>
<div class="t " style="left:631.8px;top:869.84px;font-size:12px;">$15.24</div>
<svg style="left:0;top:0" width="1" height="1"><path d="M635.0 898.1000000000001V890.7M631.5 894.2L635.0 890.7L638.5 894.2" fill="none" stroke="#5b9e3c" stroke-width="1.15" stroke-linecap="round" stroke-linejoin="round"/></svg>
<div class="t b g" style="left:643.5px;top:890.75px;font-size:8.3px;">11%</div>
<div class="t " style="left:710.3px;top:869.84px;font-size:12px;">14.200</div>
<svg style="left:0;top:0" width="1" height="1"><path d="M713.5 890.7V898.1000000000001M710.0 894.6000000000001L713.5 898.1000000000001L717.0 894.6000000000001" fill="none" stroke="#e03a2c" stroke-width="1.15" stroke-linecap="round" stroke-linejoin="round"/></svg>
<div class="t b r" style="left:722.0px;top:890.75px;font-size:8.3px;">2%</div>
<div class="t " style="left:796.2px;top:869.84px;font-size:12px;">$2.00</div>
<svg style="left:0;top:0" width="1" height="1"><path d="M799.4000000000001 898.1000000000001V890.7M795.9000000000001 894.2L799.4000000000001 890.7L802.9000000000001 894.2" fill="none" stroke="#5b9e3c" stroke-width="1.15" stroke-linecap="round" stroke-linejoin="round"/></svg>
<div class="t b g" style="left:807.9000000000001px;top:890.75px;font-size:8.3px;">11%</div>
<div class="t " style="left:882.2px;top:869.84px;font-size:12px;">$2.00</div>
<svg style="left:0;top:0" width="1" height="1"><path d="M885.4000000000001 898.1000000000001V890.7M881.9000000000001 894.2L885.4000000000001 890.7L888.9000000000001 894.2" fill="none" stroke="#5b9e3c" stroke-width="1.15" stroke-linecap="round" stroke-linejoin="round"/></svg>
<div class="t b g" style="left:893.9000000000001px;top:890.75px;font-size:8.3px;">11%</div>
<div class="t " style="left:968.3px;top:869.84px;font-size:12px;">14.200</div>
<svg style="left:0;top:0" width="1" height="1"><path d="M971.5 890.7V898.1000000000001M968.0 894.6000000000001L971.5 898.1000000000001L975.0 894.6000000000001" fill="none" stroke="#e03a2c" stroke-width="1.15" stroke-linecap="round" stroke-linejoin="round"/></svg>
<div class="t b r" style="left:980.0px;top:890.75px;font-size:8.3px;">2%</div>
<div class="t " style="left:1054.5px;top:869.84px;font-size:12px;">14.200</div>
<svg style="left:0;top:0" width="1" height="1"><path d="M1057.7 890.7V898.1000000000001M1054.2 894.6000000000001L1057.7 898.1000000000001L1061.2 894.6000000000001" fill="none" stroke="#e03a2c" stroke-width="1.15" stroke-linecap="round" stroke-linejoin="round"/></svg>
<div class="t b r" style="left:1066.2px;top:890.75px;font-size:8.3px;">2%</div>
<div class="t " style="left:1166.3px;top:869.84px;font-size:12px;">$2000</div>
<svg style="left:0;top:0" width="1" height="1"><path d="M1169.5 898.1000000000001V890.7M1166.0 894.2L1169.5 890.7L1173.0 894.2" fill="none" stroke="#5b9e3c" stroke-width="1.15" stroke-linecap="round" stroke-linejoin="round"/></svg>
<div class="t b g" style="left:1178.0px;top:890.75px;font-size:8.3px;">9%</div>
<div class="t " style="left:1275.3px;top:869.84px;font-size:12px;">14.200</div>
<svg style="left:0;top:0" width="1" height="1"><path d="M1278.5 890.7V898.1000000000001M1275.0 894.6000000000001L1278.5 898.1000000000001L1282.0 894.6000000000001" fill="none" stroke="#e03a2c" stroke-width="1.15" stroke-linecap="round" stroke-linejoin="round"/></svg>
<div class="t b r" style="left:1287.0px;top:890.75px;font-size:8.3px;">2%</div>
<div class="row" style="top:928px"></div>
<div class="t b" style="left:442.3px;top:954.94px;font-size:12px;color:#687184">Unknown</div>
<div class="t " style="left:551.7px;top:955.44px;font-size:12px;">-</div>
<div class="t " style="left:649px;top:955.44px;font-size:12px;">-</div>
<div class="t " style="left:728px;top:955.44px;font-size:12px;">-</div>
<div class="t " style="left:813px;top:955.44px;font-size:12px;">-</div>
<div class="t " style="left:898px;top:955.44px;font-size:12px;">-</div>
<div class="t " style="left:983px;top:955.44px;font-size:12px;">-</div>
<div class="t " style="left:1068px;top:955.44px;font-size:12px;">-</div>
<div class="t " style="left:1183px;top:955.44px;font-size:12px;">-</div>
<div class="t " style="left:1292px;top:955.44px;font-size:12px;">-</div>
<div class="row" style="top:1005px;height:49.5px"></div>
<div class="t b" style="left:442.3px;top:1022.84px;font-size:12px;color:#687184">Total</div>
<div class="t " style="left:631.8px;top:1022.84px;font-size:12px;">$123.32</div>
<div class="t " style="left:710.3px;top:1022.84px;font-size:12px;">142.200</div>
<div class="t " style="left:796.2px;top:1022.84px;font-size:12px;">$12.00</div>
<div class="t " style="left:882.2px;top:1022.84px;font-size:12px;">$12.00</div>
<div class="t " style="left:968.3px;top:1022.84px;font-size:12px;">142.200</div>
<div class="t " style="left:1054.5px;top:1022.84px;font-size:12px;">142.200</div>
<div class="t " style="left:1166.3px;top:1022.84px;font-size:12px;">$20.000</div>
<div class="t " style="left:1275.3px;top:1022.84px;font-size:12px;">142.200</div>
</div></div></div></body></html>
